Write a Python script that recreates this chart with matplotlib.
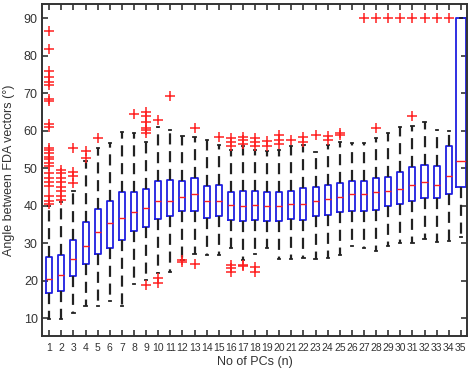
import numpy as np
import matplotlib.pyplot as plt

plt.rcParams['font.family'] = ['Liberation Sans', 'DejaVu Sans']

n_pcs = list(range(1, 36))

whis_lo = [9.8, 9.8, 11.3, 13.1, 13.1, 14.6, 13.1, 19.1, 20.2, 22.0,
           22.4, 25.6, 27.0, 26.9, 26.9, 28.7, 25.6, 27.2, 28.7, 25.8,
           25.8, 26.0, 25.8, 26.0, 26.7, 29.1, 28.7, 27.8, 29.2, 29.9,
           29.9, 31.0, 30.4, 30.5, 31.6]
q1 = [16.7, 17.1, 21.1, 24.4, 27.1, 28.6, 30.7, 33.3, 34.4, 36.5,
      37.1, 38.5, 38.5, 36.7, 37.1, 36.2, 35.9, 36.2, 36.0, 35.8,
      36.4, 36.2, 37.1, 37.6, 38.3, 38.5, 38.5, 38.9, 39.9, 40.4,
      41.3, 42.0, 42.0, 43.1, 45.0]
med = [20.3, 21.6, 25.8, 29.1, 32.9, 35.3, 36.8, 38.4, 39.3, 41.3,
       41.3, 42.3, 43.1, 41.3, 41.1, 40.2, 40.0, 40.2, 40.0, 40.0,
       40.4, 40.4, 41.1, 41.8, 42.4, 43.0, 43.0, 43.5, 43.9, 44.4,
       45.6, 46.2, 45.6, 48.0, 51.8]
q3 = [26.3, 26.7, 30.7, 35.5, 39.1, 41.3, 43.6, 43.6, 44.5, 46.7,
      46.9, 46.7, 47.3, 45.2, 45.4, 43.6, 43.9, 43.8, 43.6, 43.6,
      44.0, 44.6, 45.0, 45.4, 46.0, 46.5, 46.7, 47.4, 47.7, 48.9,
      50.2, 50.9, 50.6, 56.0, 90.0]
whis_hi = [39.8, 41.0, 43.8, 51.8, 55.3, 56.6, 59.6, 59.5, 57.1, 61.0,
           60.2, 58.6, 58.4, 57.4, 56.2, 54.9, 55.8, 54.8, 54.6, 54.9,
           55.8, 56.2, 54.4, 56.2, 57.1, 56.6, 56.6, 58.0, 59.3, 61.1,
           61.2, 62.4, 60.2, 59.9, 90.0]
outliers = [
    [40.5, 41.1, 42.5, 45.3, 46.3, 47.4, 48.7, 50.5, 51.4, 52.4, 53.1, 54.0,
     54.9, 55.5, 61.1, 61.8, 67.8, 68.5, 72.2, 73.1, 74.4, 76.0, 81.7, 86.6],
    [41.6, 42.5, 43.8, 44.9, 46.3, 47.4, 48.7, 49.6],
    [46.0, 47.8, 49.1, 55.3],
    [52.8, 54.7],
    [58.1],
    [],
    [],
    [64.4],
    [18.7, 59.5, 60.2, 60.8, 62.4, 63.8, 65.1],
    [19.3, 20.7, 62.9],
    [69.3],
    [24.9, 25.4],
    [24.4, 60.8],
    [],
    [58.4],
    [22.4, 23.3, 24.2, 56.0, 57.1, 58.0],
    [23.8, 24.2, 56.5, 57.6, 58.4],
    [22.4, 23.5, 56.0, 57.0, 58.0],
    [56.0, 57.2],
    [56.5, 57.6, 58.9],
    [57.4],
    [57.1, 58.4],
    [58.9],
    [57.6, 58.6],
    [58.9, 59.5],
    [],
    [90.0],
    [60.7, 90.0],
    [90.0],
    [90.0],
    [64.0, 90.0],
    [90.0],
    [90.0],
    [90.0],
    [],
]

stats = []
for i in range(len(n_pcs)):
    stats.append(dict(label=str(n_pcs[i]), whislo=whis_lo[i], q1=q1[i], med=med[i],
                      q3=q3[i], whishi=whis_hi[i], fliers=outliers[i]))

widths = [0.5] * (len(n_pcs) - 1) + [0.8]

fig = plt.figure(figsize=(4.74, 3.69), dpi=100)
ax = fig.add_axes([0.0886, 0.0894, 0.8964, 0.8997])

ax.bxp(stats, positions=n_pcs, widths=widths, showfliers=True,
       boxprops=dict(color='#1f1fe0', linewidth=1.3),
       medianprops=dict(color='#ff2020', linewidth=1.0),
       whiskerprops=dict(color='#222222', linewidth=1.6, linestyle=(0, (5, 3))),
       capprops=dict(color='#222222', linewidth=1.3),
       capwidths=0.18,
       flierprops=dict(marker='+', markeredgecolor='#ff2020', markersize=7,
                       markeredgewidth=1.1, linestyle='none'))

ax.set_xlim(0.4, 35.5)
ax.set_ylim(5.2, 93.8)
ax.set_yticks([10, 20, 30, 40, 50, 60, 70, 80, 90])
ax.set_xticks(n_pcs)
ax.set_xticklabels([str(v) for v in n_pcs])
ax.tick_params(direction='in', length=4, width=1.2, top=True, right=True,
               labelsize=9, labelcolor='#333333', color='#333333', pad=3)
# two-digit labels are packed tight, keep them just clear of each other
ax.tick_params(axis='x', pad=5, labelsize=7.5)
for sp in ax.spines.values():
    sp.set_linewidth(1.4)
    sp.set_color('#333333')

ax.set_ylabel('Angle between FDA vectors (°)', fontsize=9, color='#333333', labelpad=6)
ax.set_xlabel('No of PCs (n)', fontsize=9, color='#333333', labelpad=2)

fig.savefig('out.png', dpi=100)
